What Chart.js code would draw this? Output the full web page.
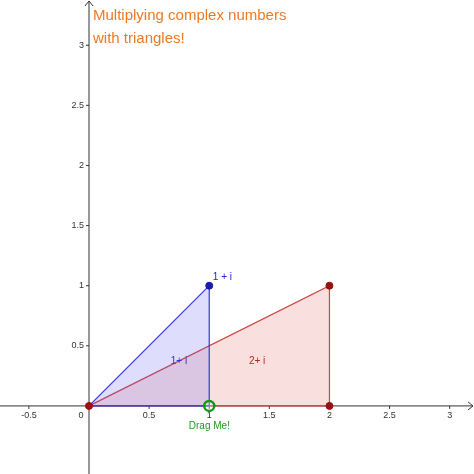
<!DOCTYPE html>
<html>
<head>
<meta charset="utf-8">
<script src="https://cdn.jsdelivr.net/npm/chart.js@4"></script>
<style>
html,body{margin:0;padding:0;background:#fff;}
#wrap{width:474px;height:474px;}
</style>
</head>
<body>
<div id="wrap"><canvas id="c" width="474" height="474"></canvas></div>
<script>
var xTicks = [-0.5, 0, 0.5, 1, 1.5, 2, 2.5, 3];
var yTicks = [0.5, 1, 1.5, 2, 2.5, 3];
var blueTri = [{x:0,y:0},{x:1,y:1},{x:1,y:0}];
var redTri = [{x:0,y:0},{x:2,y:1},{x:2,y:0}];
var labels = [
  {x:1.03, y:1.07, t:"1 + i", c:"#2222cc"},
  {x:0.68, y:0.37, t:"1+ i", c:"#3333bb"},
  {x:1.33, y:0.37, t:"2+ i", c:"#bb2222"},
  {x:0.83, y:-0.17, t:"Drag Me!", c:"#229922"}
];

var geoPlugin = {
  id: 'geo',
  beforeDatasetsDraw: function(chart) {
    var ctx = chart.ctx, xs = chart.scales.x, ys = chart.scales.y;
    function poly(pts, fill, stroke) {
      ctx.beginPath();
      pts.forEach(function(p, i) {
        var px = xs.getPixelForValue(p.x), py = ys.getPixelForValue(p.y);
        if (i === 0) ctx.moveTo(px, py); else ctx.lineTo(px, py);
      });
      ctx.closePath();
      ctx.fillStyle = fill; ctx.fill();
      ctx.strokeStyle = stroke; ctx.lineWidth = 1.2; ctx.stroke();
    }
    ctx.save();
    // axes
    var x0 = xs.getPixelForValue(0), y0 = ys.getPixelForValue(0);
    ctx.strokeStyle = '#333'; ctx.lineWidth = 1;
    ctx.beginPath();
    ctx.moveTo(0, y0); ctx.lineTo(chart.width - 1, y0);
    ctx.moveTo(x0, chart.height); ctx.lineTo(x0, 1);
    ctx.stroke();
    ctx.beginPath();
    ctx.moveTo(chart.width - 6, y0 - 4); ctx.lineTo(chart.width - 1, y0); ctx.lineTo(chart.width - 6, y0 + 4);
    ctx.moveTo(x0 - 4, 6); ctx.lineTo(x0, 1); ctx.lineTo(x0 + 4, 6);
    ctx.stroke();
    ctx.fillStyle = '#333'; ctx.font = '9px "Liberation Sans", Arial, sans-serif';
    ctx.textAlign = 'center'; ctx.textBaseline = 'top';
    xTicks.forEach(function(v) {
      var px = xs.getPixelForValue(v);
      if (v !== 0) {
        ctx.beginPath(); ctx.moveTo(px, y0); ctx.lineTo(px, y0 + 3); ctx.stroke();
        ctx.fillText(String(v), px, y0 + 5);
      }
    });
    ctx.fillText('0', x0 - 8, y0 + 5);
    ctx.textAlign = 'right'; ctx.textBaseline = 'middle';
    yTicks.forEach(function(v) {
      var py = ys.getPixelForValue(v);
      ctx.beginPath(); ctx.moveTo(x0 - 3, py); ctx.lineTo(x0, py); ctx.stroke();
      ctx.fillText(String(v), x0 - 5, py);
    });
    poly(redTri, 'rgba(230,80,80,0.18)', '#cc4444');
    poly(blueTri, 'rgba(90,90,240,0.2)', '#3333ee');
    ctx.font = '10px "Liberation Sans", Arial, sans-serif';
    ctx.textAlign = 'left'; ctx.textBaseline = 'middle';
    labels.forEach(function(l) {
      ctx.fillStyle = l.c;
      ctx.fillText(l.t, xs.getPixelForValue(l.x), ys.getPixelForValue(l.y));
    });
    ctx.fillStyle = '#f07820';
    ctx.font = '15px "Liberation Sans", Arial, sans-serif';
    ctx.textBaseline = 'middle';
    ctx.fillText('Multiplying complex numbers', x0 + 4, 16);
    ctx.fillText('with triangles!', x0 + 4, 39);
    ctx.restore();
  }
};

new Chart(document.getElementById('c'), {
  type: 'scatter',
  data: {
    datasets: [
      {data: [blueTri[1]], pointRadius: 3.5, pointBackgroundColor: '#1a1ab0', pointBorderColor: '#1a1ab0'},
      {data: [redTri[0], redTri[1], redTri[2]], pointRadius: 3.5, pointBackgroundColor: '#9a1010', pointBorderColor: '#9a1010'},
      {data: [blueTri[2]], pointRadius: 5, pointBorderWidth: 2.5, pointBackgroundColor: 'rgba(255,255,255,0.3)', pointBorderColor: '#119911'}
    ]
  },
  options: {
    responsive: false,
    animation: false,
    layout: {padding: 0},
    plugins: {legend: {display: false}, tooltip: {enabled: false}},
    scales: {
      x: {type: 'linear', min: -0.678, max: 3.14, display: false},
      y: {type: 'linear', min: -0.504, max: 3.314, display: false}
    }
  },
  plugins: [geoPlugin]
});
</script>
</body>
</html>
